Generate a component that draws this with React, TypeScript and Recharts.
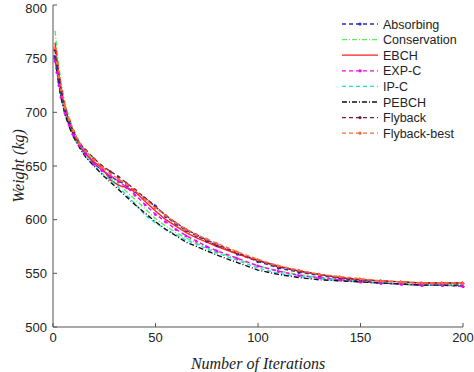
import { LineChart, Line, XAxis, YAxis } from "recharts";

// iteration numbers where the curves were sampled
const iterations = [
  1, 2, 3, 4, 6, 8, 10, 13, 16, 20, 24, 28, 32, 36, 40, 45, 50, 55, 60, 65, 70,
  75, 80, 90, 100, 110, 120, 130, 140, 150, 160, 170, 180, 190, 200,
];

const absorbing = [
  752, 741, 728, 718, 701, 690, 680, 669, 662, 652, 646, 640, 636, 632, 626,
  620, 613, 603, 596, 590, 585, 580, 576, 568, 561, 555, 551, 548, 545, 543,
  541, 540, 539, 539, 538,
];
const conservation = [
  776, 758, 741, 727, 708, 694, 684, 672, 663, 654, 646, 639, 633, 626, 619,
  610, 601, 594, 588, 583, 578, 574, 570, 563, 557, 552, 549, 546, 544, 542,
  541, 540, 539, 539, 539,
];
const ebch = [
  765, 748, 735, 722, 703, 690, 680, 668, 661, 654, 648, 637, 632, 630, 626,
  617, 608, 600, 594, 588, 583, 579, 575, 568, 562, 557, 552, 549, 546, 544,
  543, 542, 541, 541, 541,
];
const expC = [
  748, 737, 725, 714, 699, 688, 679, 669, 661, 652, 646, 641, 636, 630, 623,
  614, 605, 598, 591, 585, 580, 575, 571, 564, 557, 552, 548, 546, 544, 542,
  541, 540, 539, 539, 538,
];
const ipC = [
  750, 738, 725, 713, 698, 687, 677, 667, 659, 650, 643, 637, 630, 623, 615,
  604, 597, 591, 586, 581, 577, 573, 569, 562, 555, 550, 547, 545, 543, 542,
  541, 540, 539, 539, 539,
];
const pebch = [
  750, 737, 724, 713, 697, 686, 677, 667, 658, 650, 642, 635, 628, 621, 614,
  606, 598, 591, 585, 579, 575, 571, 567, 560, 553, 549, 546, 544, 543, 542,
  541, 540, 539, 539, 539,
];
const flyback = [
  758, 744, 731, 720, 703, 692, 682, 671, 665, 657, 650, 645, 640, 634, 628,
  620, 612, 604, 597, 591, 586, 581, 577, 569, 562, 556, 552, 549, 546, 544,
  543, 542, 541, 541, 541,
];
const flybackBest = [
  760, 746, 733, 721, 704, 693, 683, 671, 664, 656, 649, 643, 638, 633, 627,
  619, 611, 604, 597, 591, 586, 582, 578, 570, 563, 557, 553, 549, 547, 545,
  543, 542, 541, 541, 541,
];

const xTicks = [0, 50, 100, 150, 200];
const yTicks = [500, 550, 600, 650, 700, 750, 800];

const series = [
  { key: "Absorbing", values: absorbing, color: "#2b2bb8", dash: "4 3", marker: true },
  { key: "Conservation", values: conservation, color: "#55ee55", dash: "5 2 1 2", marker: false },
  { key: "EBCH", values: ebch, color: "#ff2020", dash: undefined, marker: false },
  { key: "EXP-C", values: expC, color: "#ff00ff", dash: "4 3", marker: true },
  { key: "IP-C", values: ipC, color: "#22dddd", dash: "4 3", marker: false },
  { key: "PEBCH", values: pebch, color: "#111111", dash: "5 2 1 2", marker: false },
  { key: "Flyback", values: flyback, color: "#7a1c3c", dash: "4 3", marker: true },
  { key: "Flyback-best", values: flybackBest, color: "#ff6a3d", dash: "4 3", marker: true },
];

const data = iterations.map((it, i) => {
  const row: Record<string, number> = { it };
  series.forEach((s) => {
    row[s.key] = s.values[i];
  });
  return row;
});

// legend drawn as an overlay so it takes no room from the plot
function LegendBox() {
  return (
    <svg
      width={120}
      height={130}
      style={{ position: "absolute", left: 338, top: 17 }}
    >
      {series.map((s, i) => {
        const y = 7 + i * 15.6;
        return (
          <g key={s.key}>
            <line
              x1={4}
              x2={40}
              y1={y}
              y2={y}
              stroke={s.color}
              strokeWidth={1.3}
              strokeDasharray={s.dash}
            />
            {s.marker && <circle cx={22} cy={y} r={1.6} fill={s.color} />}
            <text
              x={45}
              y={y + 4.5}
              fontSize={12.5}
              fontFamily="Liberation Sans, Arial, sans-serif"
              fill="#222"
            >
              {s.key}
            </text>
          </g>
        );
      })}
    </svg>
  );
}

export default function App() {
  const tickStyle = {
    fontSize: 13,
    fontFamily: "Liberation Sans, Arial, sans-serif",
    fill: "#222",
  };
  const labelStyle = {
    fontSize: 16,
    fontStyle: "italic",
    fontFamily: "Liberation Serif, Times New Roman, serif",
    fill: "#222",
  };
  return (
    <div
      style={{
        position: "absolute",
        left: 0,
        top: 0,
        width: 474,
        height: 372,
        background: "#fff",
      }}
    >
      <LineChart
        width={474}
        height={372}
        data={data}
        margin={{ top: 5, right: 11, left: 0, bottom: 0 }}
      >
        <XAxis
          dataKey="it"
          type="number"
          domain={[0, 200]}
          ticks={xTicks}
          tick={tickStyle}
          tickSize={-4}
          tickMargin={10}
          height={45}
          stroke="#555"
          label={{
            value: "Number of Iterations",
            position: "insideBottom",
            offset: 3,
            style: labelStyle,
          }}
        />
        <YAxis
          type="number"
          domain={[500, 800]}
          ticks={yTicks}
          tick={tickStyle}
          tickSize={-4}
          tickMargin={10}
          width={53}
          stroke="#555"
          label={{
            value: "Weight (kg)",
            angle: -90,
            position: "insideLeft",
            offset: 18,
            style: { ...labelStyle, textAnchor: "middle" },
          }}
        />
        {series.map((s) => (
          <Line
            key={s.key}
            dataKey={s.key}
            type="linear"
            stroke={s.color}
            strokeWidth={1.4}
            strokeDasharray={s.dash}
            dot={s.marker ? { r: 1, fill: s.color, stroke: s.color } : false}
            isAnimationActive={false}
          />
        ))}
      </LineChart>
      <LegendBox />
    </div>
  );
}
